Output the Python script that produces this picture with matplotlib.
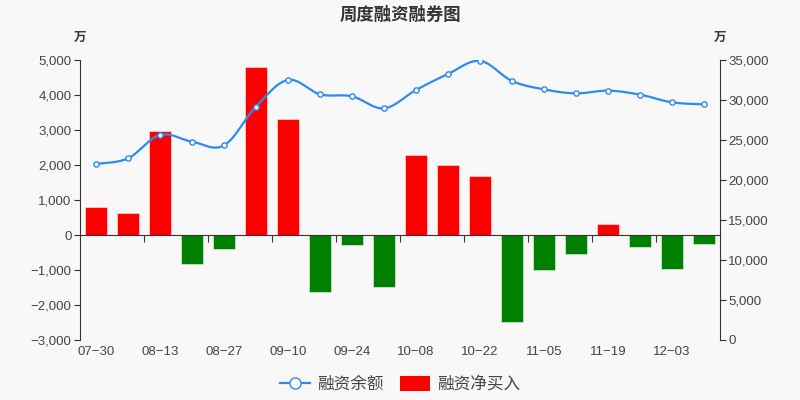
"""Weekly margin financing chart (周度融资融券图)."""

import numpy as np
import matplotlib
matplotlib.use('Agg')
import matplotlib.pyplot as plt
from matplotlib.lines import Line2D
from matplotlib.patches import Rectangle
from matplotlib.ticker import FuncFormatter

plt.rcParams['font.family'] = ['Liberation Sans', 'Noto Sans CJK SC', 'DejaVu Sans']
plt.rcParams['axes.unicode_minus'] = True

# weekly dates
dates = ['07-30', '08-06', '08-13', '08-20', '08-27', '09-03', '09-10',
         '09-17', '09-24', '10-01', '10-08', '10-15', '10-22', '10-29',
         '11-05', '11-12', '11-19', '11-26', '12-03', '12-10']

# 融资净买入 (万)
net_buy = [790, 640, 2960, -830, -400, 4790, 3310, -1640, -295, -1495,
           2295, 2000, 1690, -2495, -1010, -535, 305, -335, -980, -250]

# 融资余额 (万)
balance = [22000, 22710, 25630, 24790, 24330, 29170, 32500, 30710, 30460,
           28960, 31250, 33250, 34880, 32380, 31330, 30830, 31170, 30670,
           29710, 29460]

BG = '#f8f8f8'
BLUE = '#2a8cf0'
TEXT = '#444444'
AXIS = '#333333'


def smooth_curve(x, y, n=30, t=0.35):
    """Bezier smoothing through the points, similar to echarts smooth lines."""
    x = np.asarray(x, float)
    y = np.asarray(y, float)
    xs, ys = [], []
    for i in range(len(x) - 1):
        p0 = np.array([x[i - 1], y[i - 1]]) if i > 0 else np.array([x[i], y[i]])
        p1 = np.array([x[i], y[i]])
        p2 = np.array([x[i + 1], y[i + 1]])
        p3 = np.array([x[i + 2], y[i + 2]]) if i + 2 < len(x) else p2
        c1 = p1 + (p2 - p0) * t / 2 * (1 if i > 0 else 0) + (p2 - p1) * t / 2 * (0 if i > 0 else 1)
        c2 = p2 - (p3 - p1) * t / 2 * (1 if i + 2 < len(x) else 0) - (p2 - p1) * t / 2 * (0 if i + 2 < len(x) else 1)
        s = np.linspace(0, 1, n, endpoint=(i == len(x) - 2))
        pts = ((1 - s) ** 3)[:, None] * p1 + (3 * (1 - s) ** 2 * s)[:, None] * c1 \
            + (3 * (1 - s) * s ** 2)[:, None] * c2 + (s ** 3)[:, None] * p2
        xs.append(pts[:, 0])
        ys.append(pts[:, 1])
    return np.concatenate(xs), np.concatenate(ys)


def main():
    fig = plt.figure(figsize=(8, 4), dpi=100, facecolor=BG)
    ax = fig.add_axes([0.1, 0.15, 0.8, 0.70])
    ax.set_facecolor(BG)
    ax2 = ax.twinx()

    x = np.arange(len(dates))
    colors = ['#ff0000' if v >= 0 else '#008000' for v in net_buy]
    ax.bar(x, net_buy, width=0.69, color=colors, edgecolor=(1, 1, 1, 0.6),
           linewidth=0.6, zorder=2)

    ax.set_xlim(-0.5, len(dates) - 0.5)
    ax.set_ylim(-3000, 5000)
    ax.set_yticks(np.arange(-3000, 5001, 1000))
    fmt = FuncFormatter(lambda v, p: f'{v:,.0f}'.replace('-', '\u2212'))
    ax.yaxis.set_major_formatter(fmt)
    ax.tick_params(axis='y', length=4, color=AXIS, labelsize=9.5, labelcolor=TEXT, pad=2)

    # x axis line on zero with boundary ticks
    for s in ['top', 'right']:
        ax.spines[s].set_visible(False)
    ax.spines['left'].set_color(AXIS)
    ax.spines['bottom'].set_position(('data', 0))
    ax.spines['bottom'].set_color(AXIS)
    ax.set_xticks(np.arange(1.5, len(dates) - 1, 2))
    ax.tick_params(axis='x', length=5, color=AXIS, labelbottom=False)

    sec = ax.secondary_xaxis(0.0)
    sec.set_xticks(x[::2])
    sec.set_xticklabels([d.replace('-', '\u2212') for d in dates[::2]])
    sec.tick_params(length=0, labelsize=9.5, labelcolor=TEXT, pad=4)
    sec.spines['bottom'].set_visible(False)

    # balance line
    sx, sy = smooth_curve(x, balance)
    ax2.plot(sx, sy, color=BLUE, linewidth=1.6, zorder=3)
    ax2.plot(x, balance, linestyle='none', marker='o', markersize=3.8,
             markerfacecolor='white', markeredgecolor=BLUE, markeredgewidth=1, zorder=4)
    ax2.set_ylim(0, 35000)
    ax2.set_yticks(np.arange(0, 35001, 5000))
    ax2.yaxis.set_major_formatter(fmt)
    ax2.tick_params(axis='y', length=4, color=AXIS, labelsize=9.5, labelcolor=TEXT, pad=2)
    for s in ['top', 'left', 'bottom']:
        ax2.spines[s].set_visible(False)
    ax2.spines['right'].set_color(AXIS)

    fig.text(0.5, 0.965, '周度融资融券图', ha='center', va='center',
             fontsize=12.5, fontweight='bold', color='#333333')
    fig.text(0.1, 0.905, '万', ha='center', va='center', fontsize=9,
             fontweight='bold', color='#333333')
    fig.text(0.9, 0.905, '万', ha='center', va='center', fontsize=9,
             fontweight='bold', color='#333333')

    handles = [
        Line2D([0], [0], color=BLUE, linewidth=1.6, marker='o', markersize=8,
               markerfacecolor='white', markeredgecolor=BLUE),
        Rectangle((0, 0), 1, 1, facecolor='#ff0000', edgecolor='none'),
    ]
    fig.legend(handles, ['融资余额', '融资净买入'], loc='center',
               bbox_to_anchor=(0.5, 0.04), ncol=2, frameon=False,
               fontsize=12, labelcolor=TEXT, handlelength=1.8,
               handleheight=1.0, handletextpad=0.4, columnspacing=1.0)

    fig.savefig('out.png', dpi=100, facecolor=BG)
    plt.close(fig)


if __name__ == '__main__':
    main()
